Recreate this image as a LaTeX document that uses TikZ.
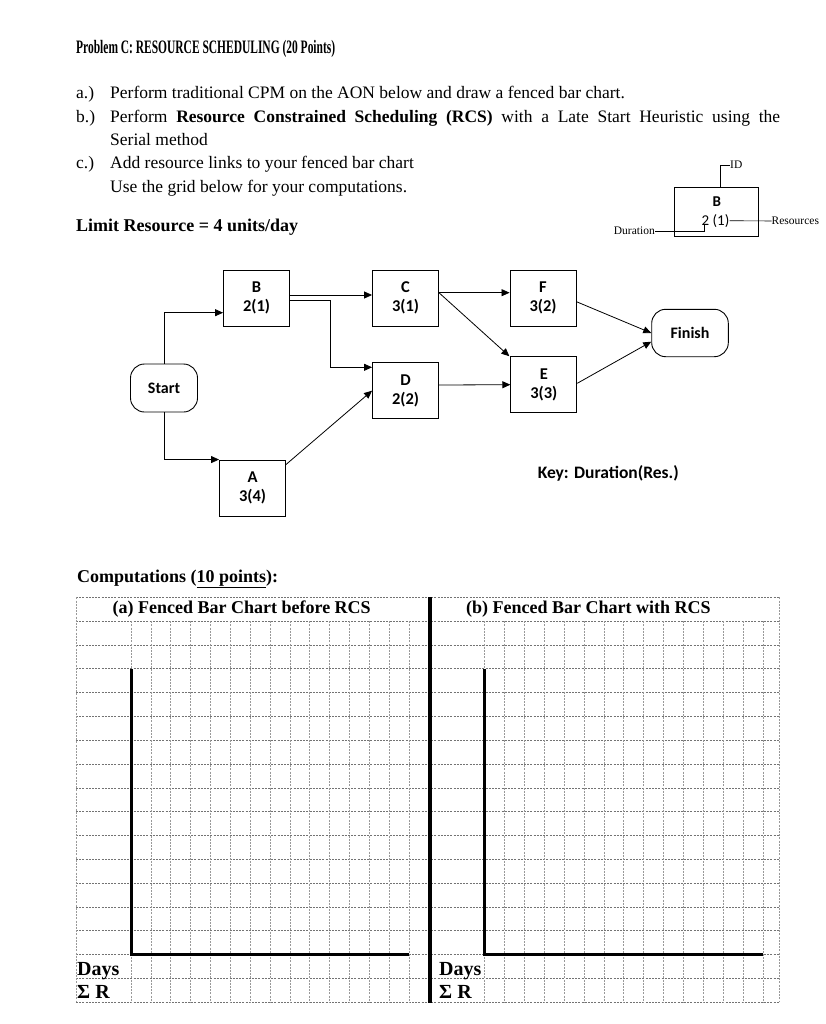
\documentclass[tikz,border=0pt]{standalone}
\usepackage{fontspec}
\setmainfont{Liberation Serif}
\newfontfamily\calfont{Carlito}
\usetikzlibrary{arrows.meta,calc}
\begin{document}
\begin{tikzpicture}[x=1pt,y=-1pt,
  box/.style={draw, line width=0.9pt, minimum width=66pt, minimum height=56pt, inner sep=0pt, align=center,
    font=\calfont\bfseries\fontsize{16.5}{18.5}\selectfont},
  term/.style={draw, line width=0.9pt, rounded corners=14pt, inner sep=0pt, align=center,
    font=\calfont\bfseries\fontsize{16}{18}\selectfont},
  arr/.style={-{Triangle[length=8pt,width=7pt]}, line width=0.8pt},
  txt/.style={anchor=base west, inner sep=0pt, font=\fontsize{17.5}{20}\selectfont},
  btxt/.style={anchor=base west, inner sep=0pt, font=\bfseries\fontsize{18}{21}\selectfont},
  small/.style={inner sep=0pt, font=\fontsize{11.5}{13}\selectfont},
  gridh/.style={black!55, line width=0.7pt, dash pattern=on 2pt off 1.2pt},
  gridv/.style={black!40, line width=0.7pt, dash pattern=on 2pt off 1.2pt},
  thick line/.style={line width=3pt, line join=miter}
]
\useasboundingbox (0,0) rectangle (826,1024);
\fill[white] (0,0) rectangle (826,1024);

% ---------- header text ----------
\node[btxt, font=\bfseries\fontsize{19}{21}\selectfont] (title) at (76,54) {\resizebox{259pt}{\height}{Problem C: RESOURCE SCHEDULING (20 Points)}};
\node[txt] (la) at (76,99) {a.)};
\node[txt] (ta) at (110,99) {Perform traditional CPM on the AON below and draw a fenced bar chart.};
\node[txt] (lb) at (76,122.5) {b.)};
\node[txt] (tb) at (110,122.5) {\makebox[670pt][s]{Perform \textbf{Resource Constrained Scheduling (RCS)} with a Late Start Heuristic using the}};
\node[txt] (tb2) at (110,146) {Serial method};
\node[txt] (lc) at (76,169) {c.)};
\node[txt] (tc) at (110,169) {Add resource links to your fenced bar chart};
\node[txt] (tc2) at (110,192.5) {Use the grid below for your computations.};
\node[btxt] (limit) at (76,232) {Limit Resource = 4 units/day};

% ---------- key box ----------
\node[draw, line width=0.8pt, minimum width=84.3pt, minimum height=48.3pt, inner sep=0pt] (key) at (716.2,211.85) {};
\node[inner sep=0pt, font=\calfont\bfseries\fontsize{15}{16}\selectfont] (keyid) at (716.7,201.7) {B};
\node[inner sep=0pt, font=\calfont\fontsize{15}{16}\selectfont] (keydur) at (715.5,220.7) {2 (1)};
\node[small, anchor=west] (idlbl) at (730,165) {ID};
\node[small, anchor=west] (reslbl) at (771.5,221) {Resources};
\node[small, anchor=east] (durlbl) at (655,231) {Duration};
\draw[line width=0.6pt] ([xshift=3.8pt]key.north) |- (idlbl.west);
\draw[line width=0.6pt] (keydur.east) -- (reslbl.west);
\draw[line width=0.6pt] (durlbl.east) -| ([xshift=2.8pt,yshift=1pt]keydur.base west);

% ---------- network ----------
\node[term, minimum width=67pt, minimum height=48pt] (start) at (164,388) {Start};
\node[box] (B) at (256.5,298) {B\\2(1)};
\node[box] (C) at (405.5,298) {C\\3(1)};
\node[box] (D) at (405.5,390.7) {D\\2(2)};
\node[box] (A) at (252.5,488) {A\\3(4)};
\node[box] (F) at (543,298) {F\\3(2)};
\node[box] (E) at (543.8,384.7) {E\\3(3)};
\node[term, minimum width=76.6pt, minimum height=47.4pt] (finish) at (690,333) {Finish};

\draw[arr] (start.north) |- ([yshift=-14.7pt]B.west);
\draw[arr] (start.south) |- (A.north west);
\draw[arr] ([yshift=3pt]B.east) -- ([yshift=3pt]C.west);
\draw[arr] ([yshift=-2.7pt]B.east) -- ++(40.7pt,0) |- ([yshift=23.4pt]D.west);
\draw[arr] ([yshift=-5pt]A.north east) -- (D.west);
\draw[arr] ([yshift=5.3pt]C.east) -- ([yshift=5.3pt]F.west);
\draw[arr] ([yshift=5.3pt]C.east) -- ([xshift=-1pt]E.north west);
\draw[arr] ([yshift=5.7pt]D.east) -- (E.west);
\draw[arr] ([yshift=-3.7pt]F.east) -- (finish.west);
\draw[arr] ([yshift=1.4pt]E.east) -- ([yshift=-8.7pt]finish.west);

\node[inner sep=0pt, font=\calfont\bfseries\fontsize{17.5}{20}\selectfont] (keytxt) at (608.3,473.3) {Key: Duration(Res.)};

% ---------- computations ----------
\node[btxt] (comp) at (77,582) {Computations (\underline{10 points}):};

% grid
\foreach \j in {0,...,17}
  \draw[gridh] (76,{597.3+23.82*\j}) -- (779.3,{597.3+23.82*\j});
\foreach \k in {0,...,14}
  \draw[gridv] ({131+19.87*\k},621.1) -- ({131+19.87*\k},1002.2);
\foreach \k in {0,...,14}
  \draw[gridv] ({484.3+19.93*\k},621.1) -- ({484.3+19.93*\k},1002.2);
\draw[gridv] (76,597.3) -- (76,1002.2);
\draw[gridv] (779.3,597.3) -- (779.3,1002.2);
\draw[line width=4pt] (429.6,597.3) -- (429.6,1002.6);
\draw[thick line] (131,668.8) -- (131,954.6) -- (409.2,954.6);
\draw[thick line] (484.3,668.8) -- (484.3,954.6) -- (763.3,954.6);

\node[inner sep=0pt, font=\bfseries\fontsize{18}{21}\selectfont] (cha) at (241.7,609.5) {(a) Fenced Bar Chart before RCS};
\node[inner sep=0pt, font=\bfseries\fontsize{18}{21}\selectfont] (chb) at (588.4,609.5) {(b) Fenced Bar Chart with RCS};
\node[anchor=base west, inner sep=0pt, font=\bfseries\fontsize{20}{22}\selectfont] (daysa) at (77,975) {Days};
\node[anchor=base west, inner sep=0pt, font=\bfseries\fontsize{20}{22}\selectfont] (sra) at (77,998) {Σ R};
\node[anchor=base west, inner sep=0pt, font=\bfseries\fontsize{20}{22}\selectfont] (daysb) at (439,975) {Days};
\node[anchor=base west, inner sep=0pt, font=\bfseries\fontsize{20}{22}\selectfont] (srb) at (439,998) {Σ R};
\end{tikzpicture}
\end{document}
